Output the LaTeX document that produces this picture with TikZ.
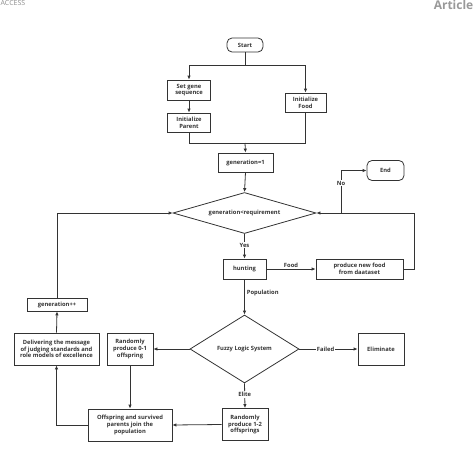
\documentclass[tikz,border=0pt]{standalone}
\usepackage{fontspec}
\setmainfont{Open Sans}
\usetikzlibrary{shapes.geometric,arrows.meta}
\definecolor{ink}{HTML}{333333}
\begin{document}
\begin{tikzpicture}[x=1pt,y=-1pt,
  every node/.style={text=ink,font=\fontsize{5.8}{6.8}\selectfont\bfseries},
  box/.style={draw=ink,line width=0.8pt,rectangle,align=center,inner sep=1pt},
  term/.style={draw=ink,line width=0.8pt,rounded corners=5pt,minimum width=36pt,minimum height=14pt},
  dec/.style={draw=ink,line width=0.8pt,diamond,inner sep=0pt,align=center},
  conn/.style={draw=ink,line width=0.8pt},
  arr/.style={conn,-{Latex[length=4pt,width=3.5pt]}},
  lab/.style={font=\fontsize{5.8}{6.8}\selectfont\bfseries,fill=white,inner sep=1pt}]
\useasboundingbox (0,0) rectangle (474,455);
% page header fragments
\node[anchor=north west,inner sep=0pt,text=black!45,font=\fontsize{7}{8}\selectfont] (hdra) at (0.5,0.5) {ACCESS};
\node[anchor=north east,inner sep=0pt,text=black!40,font=\fontsize{12}{13}\selectfont\bfseries] (hdrb) at (473.5,0.5) {Article};
% nodes
\node[term] (start) at (245,45) {Start};
\node[box,minimum width=43pt,minimum height=20pt] (gene) at (189,90) {Set gene\\sequence};
\node[box,minimum width=43pt,minimum height=19pt] (parent) at (189,122.5) {Initialize\\Parent};
\node[box,minimum width=41pt,minimum height=19pt] (food) at (305.5,102.5) {Initialize\\Food};
\node[box,minimum width=55pt,minimum height=19pt] (gen1) at (245.5,162.5) {generation=1};
\node[dec,shape aspect=3.5,minimum width=143pt,minimum height=41pt] (req) at (244.5,213) {generation<requirement};
\node[term,minimum width=37pt,minimum height=20pt] (end) at (385.5,170.5) {End};
\node[box,minimum width=43pt,minimum height=20pt] (hunt) at (244.5,269) {hunting};
\node[box,minimum width=87pt,minimum height=20pt] (prod) at (359.5,269) {produce new food\\from daataset};
\node[dec,shape aspect=1.6,minimum width=109pt,minimum height=68pt] (fuzzy) at (244.5,349) {Fuzzy Logic System};
\node[box,minimum width=46pt,minimum height=32pt] (elim) at (381,349) {Eliminate};
\node[box,minimum width=46pt,minimum height=32pt] (r12) at (245,424.5) {Randomly\\produce 1-2\\offsprings};
\node[box,minimum width=84pt,minimum height=32pt] (off) at (130,425) {Offspring and survived\\parents join the\\population};
\node[box,minimum width=46pt,minimum height=32pt] (r01) at (130,349) {Randomly\\produce 0-1\\offspring};
\node[box,minimum width=85pt,minimum height=32pt] (deliv) at (56.5,349) {Delivering the message\\of judging standards and\\role models of excellence};
\node[box,minimum width=60pt,minimum height=13pt] (genpp) at (57,304.5) {generation++};
\coordinate (split) at (245,65);
\coordinate (merge) at (245,143);
\coordinate (nj) at (341,213);
% connectors
\draw[conn] (start.south) -- (split);
\draw[arr] (split) -| (gene.north);
\draw[arr] (split) -| (food.north);
\draw[arr] (gene.south) -- (parent.north);
\draw[conn] (parent.south) |- (merge);
\draw[conn] (food.south) |- (merge);
\draw[arr] (merge) -- (gen1.north);
\draw[arr] (gen1.south) -- (req.north);
\draw[arr] (req.south) -- node[lab,pos=0.45]{Yes} (hunt.north);
\draw[arr] (hunt.east) -- node[lab,above=0.5pt,fill=none]{Food} (prod.east-|prod.west);
\draw[arr] (prod.east) -- ++(11,0) |- (req.east);
\draw[arr] (nj) |- node[lab,pos=0.35]{No} (end.west);
\draw[arr] (hunt.south) -- node[lab,pos=0.4,right=1pt,fill=none]{Population} (fuzzy.north);
\draw[arr] (fuzzy.east) -- node[lab,pos=0.45]{Failed} (elim.west);
\draw[arr] (fuzzy.south) -- node[lab,pos=0.45]{Elite} (r12.north);
\draw[arr] (fuzzy.west) -- (r01.east);
\draw[arr] (r12.west) -- (off.east);
\draw[arr] (r01.south) -- (off.north);
\draw[arr] (off.west) -| (deliv.south);
\draw[arr] (deliv.north) -- (genpp.south);
\draw[arr] (genpp.north) |- (req.west);
\end{tikzpicture}
\end{document}
